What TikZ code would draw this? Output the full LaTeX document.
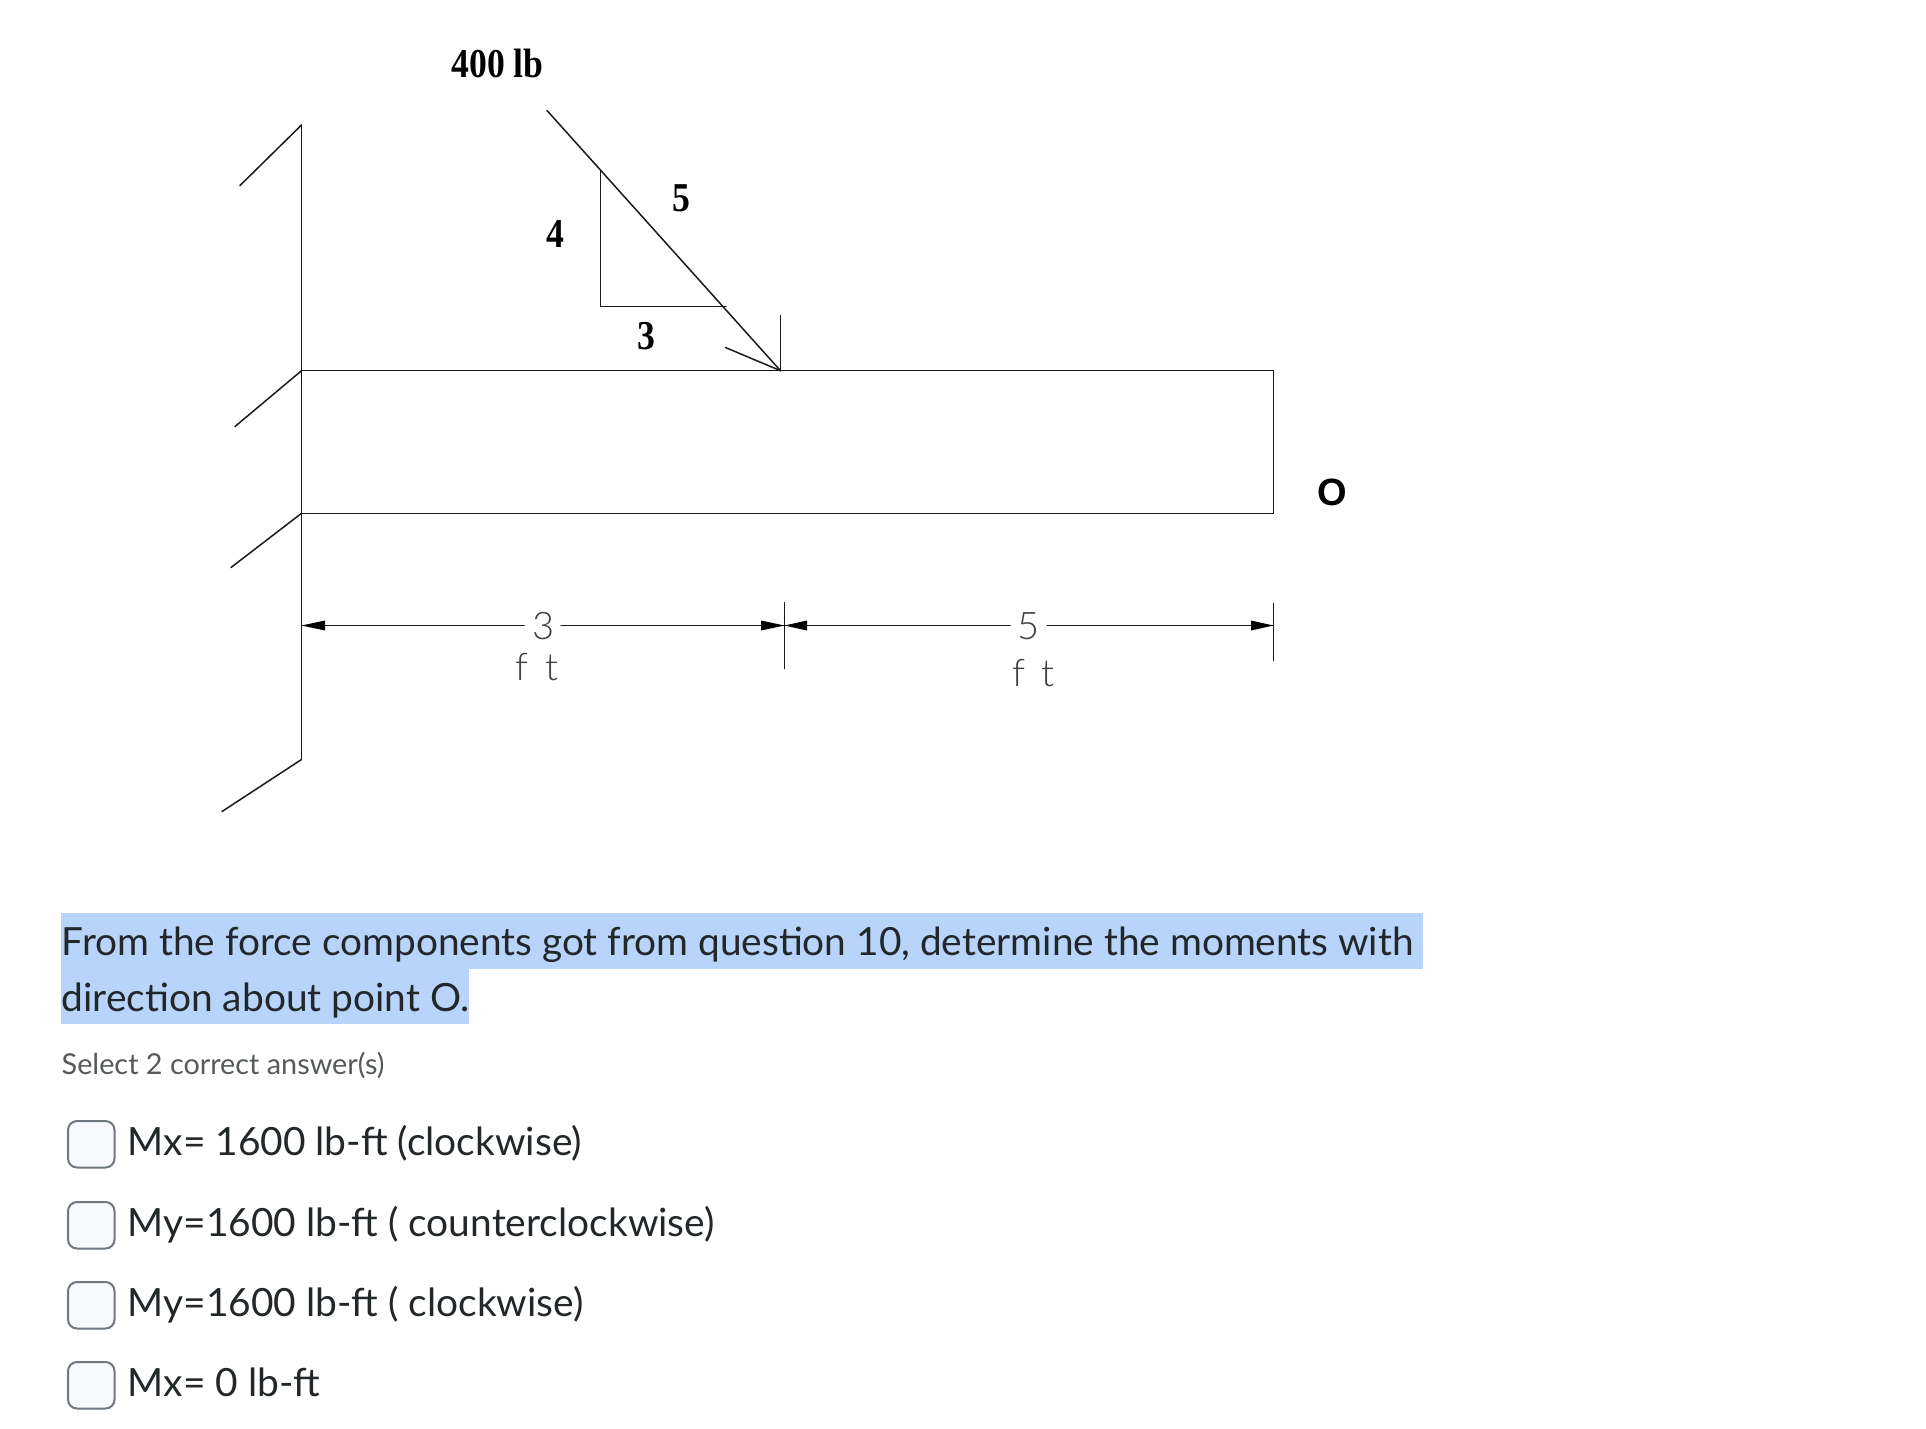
\documentclass[tikz,border=0pt]{standalone}
\usepackage{fontspec}
\setmainfont{Lato}
\newfontfamily\labfont[FakeStretch=0.87]{Liberation Serif}
\newfontfamily\cadfont{Lato Light}
\newfontfamily\ofont{Liberation Sans}
\definecolor{hl}{HTML}{B8D4FA}
\definecolor{bodyink}{HTML}{22272A}
\definecolor{subink}{HTML}{565A5C}
\definecolor{boxline}{HTML}{6F7780}
\definecolor{boxfill}{HTML}{F9FAFF}
\definecolor{cadink}{HTML}{1A1A1A}
\tikzset{
  cad/.style={draw=cadink,line width=1.5pt,line cap=round,line join=miter},
  tip/.style={fill=black,draw=none},
  lab/.style={font=\labfont\fontsize{41}{41}\selectfont\bfseries,inner sep=0pt,text=black},
  dimtext/.style={font=\cadfont\fontsize{38}{38}\selectfont,inner sep=0pt,text=black!75},
  qtext/.style={font=\fontsize{38.9}{47}\selectfont,inner sep=0pt,anchor=base west,text=bodyink},
  checkbox/.style={draw=boxline,fill=boxfill,line width=2pt,rounded corners=9pt},
}
\begin{document}
\begin{tikzpicture}[x=1pt,y=-1pt]
\useasboundingbox (0,0) rectangle (1926,1428);
\fill[white] (0,0) rectangle (1926,1428);
% named points
\coordinate (wt) at (301.5,125); \coordinate (wb) at (301.5,759.5);
\coordinate (bl) at (301.5,370.7); \coordinate (br) at (1273.5,370.7);
\coordinate (cr) at (1273.5,513.3); \coordinate (cl) at (301.5,513.3);
\coordinate (ft) at (547,110.5); \coordinate (fh) at (780.5,370.7);
% wall and hatches
\draw[cad] (wt) -- (wb);
\draw[cad] (wt) -- (240,185.5);
\draw[cad] (bl) -- (235,426.5);
\draw[cad] (cl) -- (231,567.5);
\draw[cad] (wb) -- (222,811.5);
% beam
\draw[cad] (bl) -- (br) -- (cr) -- (cl);
% force
\draw[cad] (ft) -- (fh);
\draw[cad] (fh) -- (780.5,315.5);
\draw[cad] (fh) -- (725.5,347.5);
% slope triangle
\draw[cad] (600.5,170.5) -- (600.5,306.5) -- (726,306.5);
% dimension lines
\draw[cad] (784.5,602.5) -- (784.5,668.5);
\draw[cad] (1273.5,603.5) -- (1273.5,660.5);
\draw[cad] (301.5,625.5) -- (524,625.5);
\draw[cad] (561,625.5) -- (784.5,625.5);
\draw[cad] (784.5,625.5) -- (1010,625.5);
\draw[cad] (1047,625.5) -- (1273.5,625.5);
\fill[tip] (301.5,625.5) -- (325,620.5) -- (325,630.5) -- cycle;
\fill[tip] (784.5,625.5) -- (761,620.5) -- (761,630.5) -- cycle;
\fill[tip] (784.5,625.5) -- (807,620.5) -- (807,630.5) -- cycle;
\fill[tip] (1273.5,625.5) -- (1251,620.5) -- (1251,630.5) -- cycle;
% labels
\node[lab] (f400) at (497.5,63) {400 lb};
\node[lab] (n4) at (555,234) {4};
\node[lab] (n5) at (681,198) {5};
\node[lab] (n3) at (646,336.5) {3};
\node[font=\ofont\bfseries\fontsize{38}{38}\selectfont,inner sep=0pt] (pto) at (1332.5,492.5) {O};
\node[dimtext] (d3) at (543.5,626) {3};
\node[dimtext] (u3) at (537,667) {f\kern17pt t};
\node[dimtext] (d5) at (1029,626) {5};
\node[dimtext] (u5) at (1033.5,673) {f\kern17pt t};
% question
\fill[hl] (61,912.5) rectangle (1423,968.5);
\fill[hl] (61,968.5) rectangle (469,1023.5);
\node[qtext,font=\fontsize{38.8}{47}\selectfont] (q1) at (61.5,955) {From the force components got from question 10, determine the moments with};
\node[qtext] (q2) at (61.5,1011) {direction about point O.};
\node[qtext,font=\fontsize{28.8}{35}\selectfont,text=subink] (sel) at (61.5,1074) {Select 2 correct answer(s)};
% options
\draw[checkbox] (68,1121) rectangle (114.5,1167.5);
\draw[checkbox] (68,1202) rectangle (114.5,1248.5);
\draw[checkbox] (68,1282) rectangle (114.5,1328.5);
\draw[checkbox] (68,1362) rectangle (114.5,1408.5);
\node[qtext] (o1) at (127.5,1155) {Mx= 1600 lb-ft (clockwise)};
\node[qtext] (o2) at (127.5,1236) {My=1600 lb-ft ( counterclockwise)};
\node[qtext] (o3) at (127.5,1316) {My=1600 lb-ft ( clockwise)};
\node[qtext] (o4) at (127.5,1396) {Mx= 0 lb-ft};
\end{tikzpicture}
\end{document}
